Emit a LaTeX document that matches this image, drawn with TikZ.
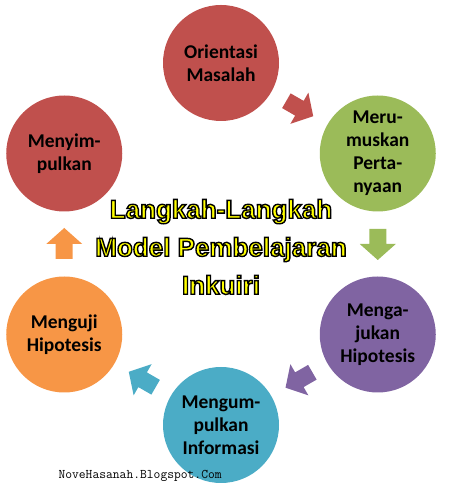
\documentclass[tikz,border=0pt]{standalone}
\usepackage{fontspec}
\usepackage{tikz}
\usetikzlibrary{calc}
\newfontfamily\stagefont{Carlito}
\newfontfamily\titlefont{Liberation Sans}
\definecolor{stagered}{HTML}{C0504D}
\definecolor{stagegreen}{HTML}{9BBB59}
\definecolor{stagepurple}{HTML}{8064A2}
\definecolor{stageteal}{HTML}{4BACC6}
\definecolor{stageorange}{HTML}{F79646}
\definecolor{titleyellow}{HTML}{FFFF00}
% yellow letters with a black outline (fill + stroke render mode)
\newcommand{\titleline}[1]{\textcolor{titleyellow}{\special{pdf:literal direct 2 Tr 1.4 w 0 0 0 RG}#1\special{pdf:literal direct 0 Tr}}}
\tikzset{stage/.style={circle, minimum size=116pt, inner sep=0pt, align=center, text=black,
  font=\stagefont\bfseries\fontsize{19.5}{23}\selectfont},
%block arrow pointing along +x
blockarrow/.pic={\fill[pic actions] (-15,-8.5) -- (0,-8.5) -- (0,-18) -- (16,0) -- (0,18) -- (0,8.5) -- (-15,8.5) -- cycle;}}

\begin{document}
\begin{tikzpicture}[x=1pt,y=1pt]
\useasboundingbox (0,0) rectangle (450,495);
\coordinate (c) at (221,251);
% stages
\foreach \nm/\ang/\col/\txt in {orientasi/90/stagered/{Orientasi\\Masalah},
    merumuskan/30/stagegreen/{Meru-\\muskan\\Perta-\\nyaan},
    mengajukan/-30/stagepurple/{Menga-\\jukan\\Hipotesis},
    mengumpulkan/-90/stageteal/{Mengum-\\pulkan\\Informasi},
    menguji/210/stageorange/{Menguji\\Hipotesis},
    menyimpulkan/150/stagered/{Menyim-\\pulkan}}
  \node[stage, fill=\col] (\nm) at ($(c)+(\ang:181)$) {\txt};

% arrows
\foreach \a/\b/\rot/\col in {orientasi/merumuskan/-30/stagered,
    merumuskan/mengajukan/-90/stagegreen,
    mengajukan/mengumpulkan/-150/stagepurple,
    mengumpulkan/menguji/150/stageteal,
    menguji/menyimpulkan/90/stageorange}
  \path ($(\a)!0.5!(\b)$) pic[rotate=\rot, fill=\col]{blockarrow};

%title
\node[align=center, font=\titlefont\bfseries\fontsize{26}{38}\selectfont] (title) at ($(c)+(0,-3)$)
  {\titleline{Langkah-Langkah}\\\titleline{Model Pembelajaran}\\\titleline{Inkuiri}};

\node[anchor=west, font=\ttfamily\fontsize{13.2}{15}\selectfont] (blog) at (55,19) {NoveHasanah.Blogspot.Com};
\end{tikzpicture}
\end{document}
